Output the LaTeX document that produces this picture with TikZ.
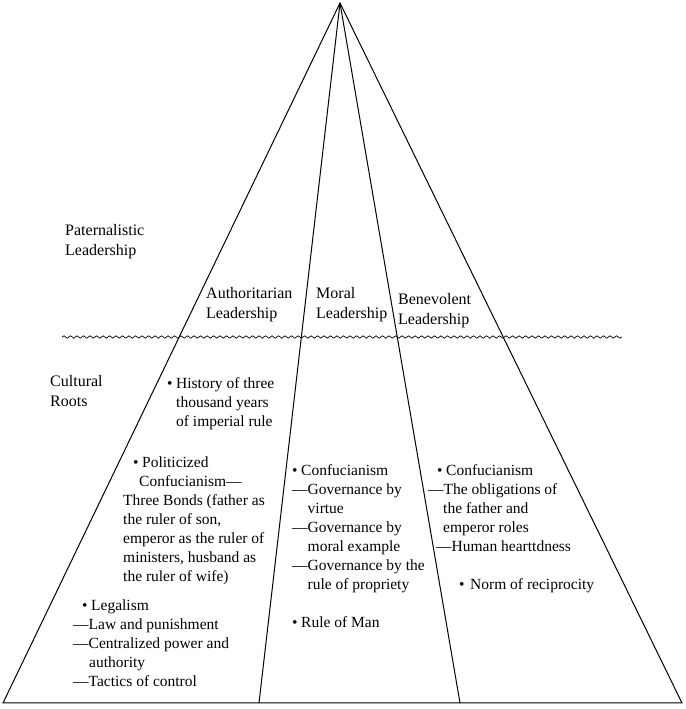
\documentclass[tikz,border=0pt]{standalone}
\usepackage{fontspec}
\setmainfont{Liberation Serif}
\usetikzlibrary{decorations.pathmorphing}
\newcommand\bul{\makebox[9pt][l]{\textbullet}}
\newcommand\lines[1]{\begin{tabular}[t]{@{}l@{}}#1\end{tabular}}
\tikzset{
  txt/.style={anchor=base west, inner sep=0pt, font=\fontsize{15.5}{19}\selectfont},
  head/.style={anchor=base west, inner sep=0pt, font=\fontsize{16}{19.5}\selectfont},
  edgeline/.style={line width=1pt, line join=miter},
  wave/.style={decorate, decoration={snake, amplitude=1.2pt, segment length=6.5pt}, line width=0.7pt}
}
\begin{document}
\begin{tikzpicture}[x=1pt,y=1pt]
\useasboundingbox (0,0) rectangle (685,709);
% geometry
\coordinate (apex) at (340,706);
\coordinate (bl) at (3,6);
\coordinate (br) at (682,6);
\coordinate (il) at (259,6);
\coordinate (ir) at (460,6);
\coordinate (wl) at (62,372);
\coordinate (wr) at (622,372);
\draw[edgeline] (apex) -- (bl) -- (br) -- cycle;
\draw[edgeline] (apex) -- (il);
\draw[edgeline] (apex) -- (ir);
\draw[wave] (wl) -- (wr);
% headings
\node[head] (pat) at (65,473) {\lines{Paternalistic\\Leadership}};
\node[head] (auth) at (206,410) {\lines{Authoritarian\\Leadership}};
\node[head] (moral) at (316,410) {\lines{Moral\\Leadership}};
\node[head] (bene) at (398,404) {\lines{Benevolent\\Leadership}};
\node[head] (cult) at (50,322) {\lines{Cultural\\Roots}};
% authoritarian roots
\node[txt] (hist) at (167,320) {\lines{\bul History of three\\
  \hspace*{9pt}thousand years\\
  \hspace*{9pt}of imperial rule}};
\node[txt] (pol) at (123,241) {\lines{\hspace*{10pt}\bul Politicized\\
  \hspace*{16pt}Confucianism—\\
  Three Bonds (father as\\
  the ruler of son,\\
  emperor as the ruler of\\
  ministers, husband as\\
  the ruler of wife)}};
\node[txt] (leg) at (73,98) {\lines{\hspace*{9pt}\bul Legalism\\
  —Law and punishment\\
  —Centralized power and\\
  \hspace*{16pt}authority\\
  —Tactics of control}};
% moral roots
\node[txt] (mid) at (292,233) {\lines{\bul Confucianism\\
  —Governance by\\
  \phantom{—}virtue\\
  —Governance by\\
  \phantom{—}moral example\\
  —Governance by the\\
  \phantom{—}rule of propriety\\
  \\
  \bul Rule of Man}};
% benevolent roots
\node[txt] (right) at (428,233) {\lines{\hspace*{9pt}\bul Confucianism\\
  —The obligations of\\
  \hspace*{15pt}the father and\\
  \hspace*{15pt}emperor roles\\
  \hspace*{8pt}—Human hearttdness\\
  \\
  \hspace*{31pt}\makebox[11pt][l]{\textbullet}Norm of reciprocity}};
\end{tikzpicture}
\end{document}
